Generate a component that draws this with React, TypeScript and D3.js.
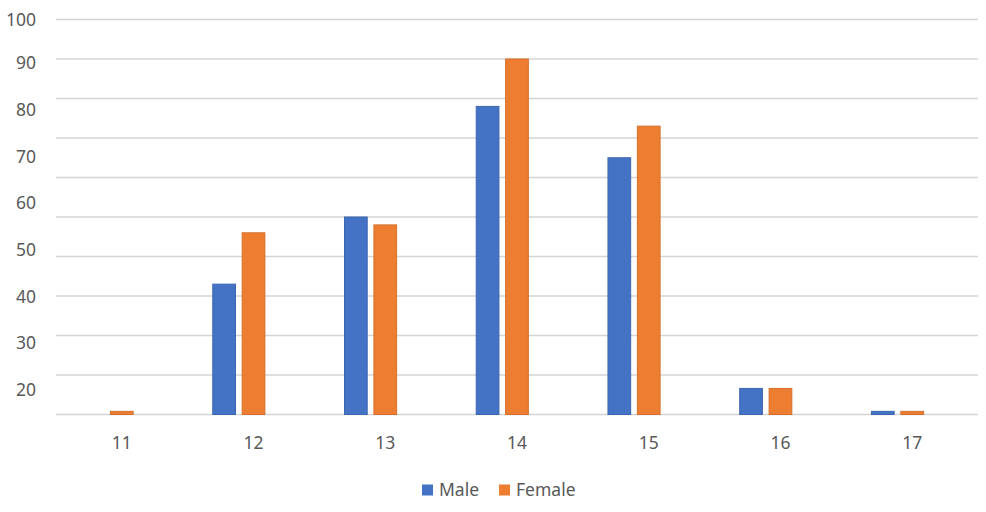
import React, { useEffect, useRef } from 'react';
import * as d3 from 'd3';

// Ages on the x axis
const ages = ['11', '12', '13', '14', '15', '16', '17'];
// Series values
const male = [0, 33, 50, 78, 65, 6.6, 0.8];
const female = [0.8, 46, 48, 90, 73, 6.6, 0.8];
const seriesNames = ['Male', 'Female'];
const seriesColors = ['#4472C4', '#ED7D31'];
// Gridlines every 10 from 0 to 100
const gridValues = [0, 10, 20, 30, 40, 50, 60, 70, 80, 90, 100];
// Labels shown on the left (as printed in the reference)
const yLabels = [100, 90, 80, 70, 60, 50, 40, 30, 20];

const W = 986;
const H = 512;

export default function App() {
  const svgRef = useRef<SVGSVGElement>(null);

  useEffect(() => {
    document.body.style.margin = '0';
    if (!svgRef.current) return;
    const svg = d3.select(svgRef.current);
    svg.selectAll('*').remove();

    const left = 56;
    const right = 978;
    const top = 19.5;
    const bottom = 414.5;
    const font = "'Noto Sans', 'Open Sans', sans-serif";

    const y = d3.scaleLinear().domain([0, 100]).range([bottom, top]);
    // label positions drift from the gridlines in the reference
    const yLab = d3.scaleLinear().domain([20, 90]).range([390, 63]);

    const x0 = d3.scaleBand().domain(ages).range([left, right]).paddingInner(0.381).paddingOuter(0.19);
    // third slot left empty, as in the source chart
    const x1 = d3.scaleBand().domain([...seriesNames, '']).range([0, x0.bandwidth()]).paddingInner(0.228);

    // gridlines
    svg.append('g')
      .selectAll('line')
      .data(gridValues)
      .join('line')
      .attr('x1', left)
      .attr('x2', right)
      .attr('y1', d => y(d))
      .attr('y2', d => y(d))
      .attr('stroke', '#d4d4d4')
      .attr('stroke-width', 1.6);

    // y labels
    svg.append('g')
      .selectAll('text')
      .data(yLabels)
      .join('text')
      .attr('x', 36)
      .attr('y', d => (d === 100 ? y(100) : yLab(d)))
      .attr('dy', '0.35em')
      .attr('text-anchor', 'end')
      .attr('font-family', font)
      .attr('font-size', 17.5)
      .attr('fill', '#595959')
      .text(d => d);

    // bars
    const series = [male, female];
    series.forEach((vals, si) => {
      svg.append('g')
        .selectAll('rect')
        .data(vals.map((v, i) => ({ age: ages[i], v })))
        .join('rect')
        .attr('x', d => (x0(d.age) as number) + (x1(seriesNames[si]) as number))
        .attr('width', x1.bandwidth())
        .attr('y', d => y(d.v))
        .attr('height', d => y(0) - y(d.v))
        .attr('fill', seriesColors[si])
        .attr('stroke', d3.color(seriesColors[si])!.darker(0.3).toString())
        .attr('stroke-width', 1);
    });

    // x labels
    svg.append('g')
      .selectAll('text')
      .data(ages)
      .join('text')
      .attr('x', d => (x0(d) as number) + x0.bandwidth() / 2)
      .attr('y', 443)
      .attr('dy', '0.35em')
      .attr('text-anchor', 'middle')
      .attr('font-family', font)
      .attr('font-size', 17.5)
      .attr('fill', '#595959')
      .text(d => d);

    // legend
    const legend = svg.append('g').attr('transform', 'translate(422,490)');
    const offsets = [0, 77];
    seriesNames.forEach((name, i) => {
      const g = legend.append('g').attr('transform', `translate(${offsets[i]},0)`);
      g.append('rect')
        .attr('x', 0)
        .attr('y', -5.5)
        .attr('width', 11)
        .attr('height', 11)
        .attr('fill', seriesColors[i]);
      g.append('text')
        .attr('x', 17)
        .attr('y', 0)
        .attr('dy', '0.35em')
        .attr('font-family', font)
        .attr('font-size', 17.5)
        .attr('fill', '#595959')
        .text(name);
    });
  }, []);

  return <svg ref={svgRef} width={W} height={H} style={{ display: 'block', background: '#fff' }} />;
}
